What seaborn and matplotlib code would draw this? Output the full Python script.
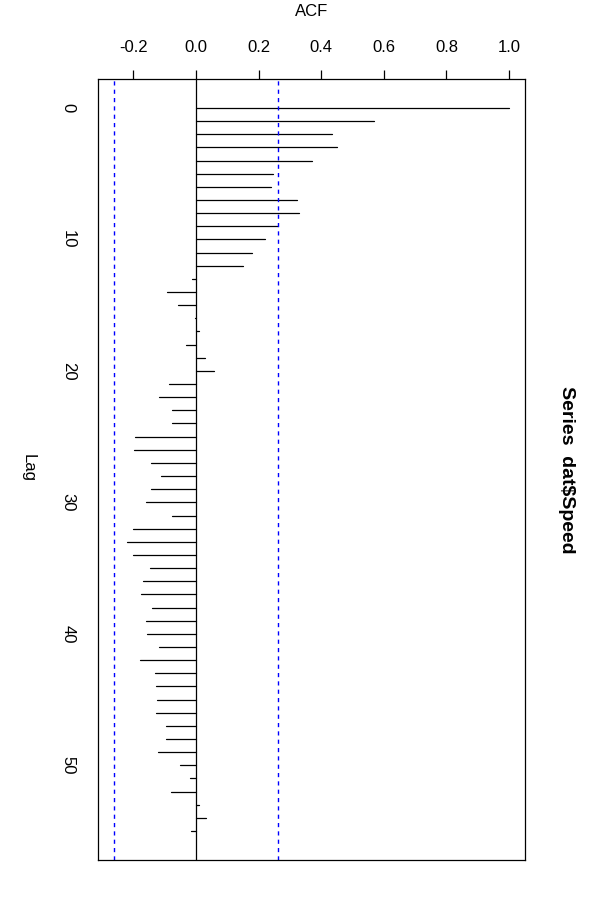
import seaborn as sns
import pandas as pd
import numpy as np
import matplotlib
matplotlib.use("Agg")
import matplotlib.pyplot as plt

# autocorrelation values (lags 0..55)
lags = list(range(56))
acf_vals = [1.000, 0.568, 0.435, 0.452, 0.370, 0.246, 0.240, 0.323, 0.329, 0.262,
            0.220, 0.180, 0.149, -0.013, -0.091, -0.056, -0.004, 0.010, -0.031, 0.028,
            0.057, -0.086, -0.118, -0.078, -0.076, -0.196, -0.198, -0.145, -0.111, -0.144,
            -0.159, -0.078, -0.201, -0.219, -0.201, -0.148, -0.169, -0.177, -0.141, -0.160,
            -0.155, -0.119, -0.180, -0.132, -0.128, -0.126, -0.129, -0.095, -0.095, -0.121,
            -0.051, -0.020, -0.079, 0.010, 0.032, -0.015]
conf_limit = 0.262
acf_ticks = [-0.2, 0.0, 0.2, 0.4, 0.6, 0.8, 1.0]
lag_ticks = [0, 10, 20, 30, 40, 50]
series_name = "dat$Speed"

sns.set_style("white")
plt.rcParams['font.family'] = ['Liberation Sans', 'DejaVu Sans']
plt.rcParams['text.color'] = 'black'

# long table: each lag = a segment from 0 to its acf value
seg = pd.DataFrame({
    "lag": np.repeat(lags, 2),
    "acf": np.ravel(np.column_stack([np.zeros(len(acf_vals)), acf_vals])),
})

W, H = 603, 901
fig = plt.figure(figsize=(W / 100, H / 100), dpi=100)
ax = fig.add_axes([98 / W, 1 - 860 / H, (525 - 98) / W, (860 - 79) / H])

sns.lineplot(data=seg, x="acf", y="lag", units="lag", estimator=None, sort=False,
             color="black", linewidth=0.9, ax=ax, legend=False)

ax.axvline(0, color="black", linewidth=0.9)
for v in (-conf_limit, conf_limit):
    ax.axvline(v, color="#0000ff", linewidth=1.0, linestyle=(0, (3, 3)))

ax.set_xlim(-0.313, 1.051)
ax.set_ylim(57.2, -2.2)

ax.xaxis.tick_top()
ax.set_xticks(acf_ticks)
ax.set_xticklabels([f"{t:.1f}" for t in acf_ticks])
ax.set_yticks(lag_ticks)
ax.set_yticklabels([str(t) for t in lag_ticks], rotation=-90, va="center")
ax.tick_params(axis="both", direction="out", length=6.5, width=0.9, color="black",
               labelsize=12, labelcolor="black")
ax.tick_params(axis="x", pad=11)
ax.tick_params(axis="y", pad=9.5)
ax.set_xlabel("")
ax.set_ylabel("")
for s in ax.spines.values():
    s.set_color("black")
    s.set_linewidth(0.9)

fig.text(312 / W, 1 - 12 / H, "ACF", ha="center", va="center", fontsize=12, color="black")
fig.text(28 / W, 1 - 468 / H, "Lag", ha="center", va="center", fontsize=12,
         rotation=-90, color="black")
fig.text(567 / W, 1 - 470 / H, "Series  " + series_name.replace("$", r"\$"),
         ha="center", va="center", fontsize=14, fontweight="bold", rotation=-90,
         color="black")

fig.savefig("out.png", dpi=100)
